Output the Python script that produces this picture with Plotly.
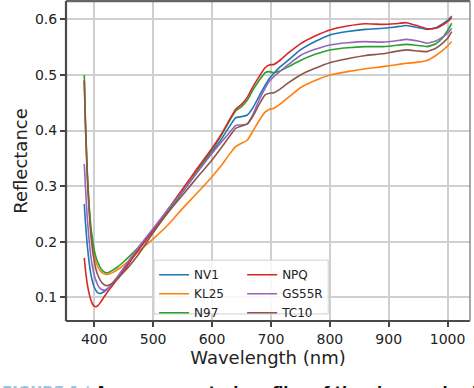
import plotly.graph_objects as go

# ---------------- data ----------------
wavelength = [383, 385, 388, 391, 394, 397, 400, 403, 406, 410, 415, 420, 425, 430,
              440, 450, 460, 475, 500, 525, 550, 575, 600, 615, 630, 640, 650, 660,
              670, 680, 690, 697, 705, 715, 730, 750, 775, 800, 830, 860, 890, 910,
              930, 950, 965, 980, 990, 1000, 1007]

NV1 = [0.268, 0.235, 0.195, 0.165, 0.143, 0.128, 0.118, 0.112, 0.108, 0.107, 0.109, 0.113, 0.118, 0.124,
       0.137, 0.151, 0.165, 0.186, 0.220, 0.255, 0.290, 0.326, 0.362, 0.383, 0.408, 0.423, 0.425, 0.428,
       0.442, 0.462, 0.481, 0.493, 0.503, 0.514, 0.527, 0.545, 0.560, 0.572, 0.578, 0.582, 0.584, 0.586,
       0.589, 0.585, 0.582, 0.585, 0.591, 0.598, 0.606]

KL25 = [0.490, 0.410, 0.325, 0.265, 0.222, 0.193, 0.175, 0.163, 0.155, 0.148, 0.143, 0.141, 0.142, 0.144,
        0.150, 0.158, 0.167, 0.182, 0.205, 0.230, 0.260, 0.288, 0.317, 0.336, 0.358, 0.371, 0.377, 0.383,
        0.400, 0.418, 0.433, 0.438, 0.440, 0.447, 0.460, 0.477, 0.490, 0.500, 0.506, 0.511, 0.515, 0.518,
        0.521, 0.523, 0.526, 0.535, 0.543, 0.552, 0.560]

N97 = [0.500, 0.420, 0.330, 0.270, 0.230, 0.205, 0.185, 0.172, 0.163, 0.154, 0.147, 0.144, 0.145, 0.148,
       0.155, 0.164, 0.174, 0.190, 0.220, 0.253, 0.290, 0.328, 0.366, 0.390, 0.418, 0.435, 0.443, 0.455,
       0.474, 0.490, 0.504, 0.506, 0.504, 0.507, 0.515, 0.526, 0.537, 0.545, 0.549, 0.551, 0.551, 0.553,
       0.555, 0.553, 0.551, 0.556, 0.565, 0.580, 0.593]

NPQ = [0.171, 0.150, 0.125, 0.108, 0.096, 0.088, 0.084, 0.083, 0.085, 0.090, 0.098, 0.106, 0.113, 0.120,
       0.134, 0.148, 0.163, 0.185, 0.221, 0.258, 0.295, 0.332, 0.368, 0.392, 0.420, 0.438, 0.447, 0.460,
       0.480, 0.497, 0.513, 0.518, 0.519, 0.526, 0.540, 0.556, 0.570, 0.581, 0.588, 0.592, 0.591, 0.592,
       0.594, 0.588, 0.583, 0.584, 0.589, 0.596, 0.603]

GS55R = [0.340, 0.300, 0.245, 0.205, 0.175, 0.155, 0.140, 0.130, 0.122, 0.116, 0.113, 0.114, 0.118, 0.124,
         0.138, 0.153, 0.168, 0.190, 0.224, 0.258, 0.290, 0.325, 0.359, 0.378, 0.397, 0.409, 0.410, 0.412,
         0.430, 0.455, 0.476, 0.488, 0.497, 0.506, 0.519, 0.535, 0.546, 0.554, 0.558, 0.560, 0.559, 0.561,
         0.564, 0.561, 0.557, 0.561, 0.567, 0.575, 0.584]

TC10 = [0.490, 0.410, 0.320, 0.260, 0.215, 0.185, 0.165, 0.150, 0.140, 0.131, 0.124, 0.121, 0.122, 0.125,
        0.134, 0.145, 0.157, 0.177, 0.216, 0.252, 0.284, 0.316, 0.347, 0.368, 0.390, 0.404, 0.408, 0.412,
        0.427, 0.447, 0.464, 0.467, 0.468, 0.474, 0.486, 0.500, 0.512, 0.522, 0.529, 0.535, 0.538, 0.542,
        0.545, 0.543, 0.542, 0.548, 0.556, 0.566, 0.578]

series_names = ["NV1", "KL25", "N97", "NPQ", "GS55R", "TC10"]
series_values = [NV1, KL25, N97, NPQ, GS55R, TC10]
series_colors = ["#1f77b4", "#ff7f0e", "#2ca02c", "#d62728", "#9467bd", "#8c564b"]
series_legend = ["legend", "legend", "legend", "legend2", "legend2", "legend2"]

x_ticks = [400, 500, 600, 700, 800, 900, 1000]
y_ticks = [0.1, 0.2, 0.3, 0.4, 0.5, 0.6]

# ---------------- figure ----------------
FONT = "DejaVu Sans, Verdana, sans-serif"
fig = go.Figure()
for name, vals, col, lg in zip(series_names, series_values, series_colors, series_legend):
    fig.add_trace(go.Scatter(
        x=wavelength, y=vals, name=name, mode="lines",
        line=dict(color=col, width=1.6, shape="spline", smoothing=0.4),
        legend=lg,
    ))

axis_common = dict(
    showgrid=True, gridcolor="#cfcfcf", gridwidth=1.5,
    zeroline=False, showline=False, automargin=False,
    ticks="outside", ticklen=5, tickwidth=1.5, tickcolor="#444444",
    tickfont=dict(family=FONT, size=14, color="#222222"),
)

fig.update_layout(
    width=474, height=388,
    margin=dict(l=66, r=4, t=1, b=67, autoexpand=False),
    paper_bgcolor="white", plot_bgcolor="white",
    font=dict(family=FONT, color="#222222"),
    xaxis=dict(range=[352, 1038], tickvals=x_ticks, ticktext=[str(v) for v in x_ticks],
               title=dict(text="Wavelength (nm)", font=dict(family=FONT, size=18, color="#222222"),
                          standoff=1),
               **axis_common),
    yaxis=dict(range=[0.0574, 0.633], tickvals=y_ticks, ticktext=[f"{v:.1f}" for v in y_ticks],
               title=dict(text="Reflectance", font=dict(family=FONT, size=18, color="#222222"),
                          standoff=2),
               **axis_common),
    legend=dict(x=0.218, y=0.19, xanchor="left", yanchor="top",
                bgcolor="rgba(0,0,0,0)", borderwidth=0, itemwidth=30,
                font=dict(family=FONT, size=12, color="#222222"), tracegroupgap=0),
    legend2=dict(x=0.436, y=0.19, xanchor="left", yanchor="top",
                 bgcolor="rgba(0,0,0,0)", borderwidth=0, itemwidth=30,
                 font=dict(family=FONT, size=12, color="#222222"), tracegroupgap=0),
    showlegend=True,
)

# legend frame
fig.add_shape(type="rect", xref="paper", yref="paper", x0=0.218, x1=0.649, y0=0.022, y1=0.19,
              line=dict(color="#d0d0d0", width=1), fillcolor="rgba(255,255,255,0.85)", layer="above")

# axes frame (spines)
fig.add_shape(type="line", xref="paper", yref="paper", x0=0, x1=0, y0=0, y1=1,
              line=dict(color="#4a4a4a", width=2.2), layer="above")
fig.add_shape(type="line", xref="paper", yref="paper", x0=0, x1=1, y0=0, y1=0,
              line=dict(color="#4a4a4a", width=2.2), layer="above")
fig.add_shape(type="line", xref="paper", yref="paper", x0=0, x1=1, y0=1, y1=1,
              line=dict(color="#666666", width=2.5), layer="above")
fig.add_shape(type="line", xref="paper", yref="paper", x0=1, x1=1, y0=0, y1=1,
              line=dict(color="#8a8a8a", width=1.5), layer="above")

# partially visible caption under the figure
fig.add_annotation(
    xref="paper", yref="paper", x=-0.163, y=-0.19, xanchor="left", yanchor="top",
    showarrow=False, align="left",
    text="<span style='color:#9cc3dd'><b>FIGURE 1 |</b></span> <b>Average spectral profiles of the six samples in the visible and near-infrared</b>",
    font=dict(family=FONT, size=15, color="#111111"),
)

fig.write_html("out.html", config={"displayModeBar": False},
               post_script="document.body.style.margin='0px';")
